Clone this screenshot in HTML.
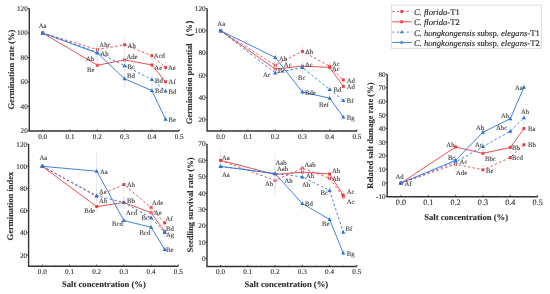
<!DOCTYPE html>
<html><head><meta charset="utf-8"><style>
html,body{margin:0;padding:0;background:#fff;width:550px;height:294px;overflow:hidden}
svg{display:block;will-change:transform}
.lab{stroke-width:0.08px;fill:#333;stroke:#333}
text{text-rendering:geometricPrecision;font-family:"Liberation Serif",serif;fill:#2e2e2e;stroke:#2e2e2e;stroke-width:0.12px}
</style></head><body>
<svg width="550" height="294" viewBox="0 0 550 294">
<rect width="550" height="294" fill="#fff"/>
<path d="M29.3 8.499999999999986V131H179.2" fill="none" stroke="#333" stroke-width="1.4"/>
<line x1="42.70" y1="131" x2="42.70" y2="129.4" stroke="#333" stroke-width="0.9"/>
<text x="42.70" y="138.60" text-anchor="middle" font-size="7.2">0.0</text>
<line x1="56.35" y1="131" x2="56.35" y2="130.1" stroke="#333" stroke-width="0.7"/>
<line x1="70.00" y1="131" x2="70.00" y2="129.4" stroke="#333" stroke-width="0.9"/>
<text x="70.00" y="138.60" text-anchor="middle" font-size="7.2">0.1</text>
<line x1="83.65" y1="131" x2="83.65" y2="130.1" stroke="#333" stroke-width="0.7"/>
<line x1="97.30" y1="131" x2="97.30" y2="129.4" stroke="#333" stroke-width="0.9"/>
<text x="97.30" y="138.60" text-anchor="middle" font-size="7.2">0.2</text>
<line x1="110.95" y1="131" x2="110.95" y2="130.1" stroke="#333" stroke-width="0.7"/>
<line x1="124.60" y1="131" x2="124.60" y2="129.4" stroke="#333" stroke-width="0.9"/>
<text x="124.60" y="138.60" text-anchor="middle" font-size="7.2">0.3</text>
<line x1="138.25" y1="131" x2="138.25" y2="130.1" stroke="#333" stroke-width="0.7"/>
<line x1="151.90" y1="131" x2="151.90" y2="129.4" stroke="#333" stroke-width="0.9"/>
<text x="151.90" y="138.60" text-anchor="middle" font-size="7.2">0.4</text>
<line x1="165.55" y1="131" x2="165.55" y2="130.1" stroke="#333" stroke-width="0.7"/>
<line x1="179.20" y1="131" x2="179.20" y2="129.4" stroke="#333" stroke-width="0.9"/>
<text x="179.20" y="138.60" text-anchor="middle" font-size="7.2">0.5</text>
<line x1="29.3" y1="131.00" x2="27.7" y2="131.00" stroke="#333" stroke-width="0.9"/>
<text x="27.80" y="133.40" text-anchor="end" font-size="7.2">20</text>
<line x1="29.3" y1="106.50" x2="27.7" y2="106.50" stroke="#333" stroke-width="0.9"/>
<text x="27.80" y="108.90" text-anchor="end" font-size="7.2">40</text>
<line x1="29.3" y1="82.00" x2="27.7" y2="82.00" stroke="#333" stroke-width="0.9"/>
<text x="27.80" y="84.40" text-anchor="end" font-size="7.2">60</text>
<line x1="29.3" y1="57.50" x2="27.7" y2="57.50" stroke="#333" stroke-width="0.9"/>
<text x="27.80" y="59.90" text-anchor="end" font-size="7.2">80</text>
<line x1="29.3" y1="33.00" x2="27.7" y2="33.00" stroke="#333" stroke-width="0.9"/>
<text x="27.80" y="35.40" text-anchor="end" font-size="7.2">100</text>
<line x1="29.3" y1="8.50" x2="27.7" y2="8.50" stroke="#333" stroke-width="0.9"/>
<text x="27.80" y="10.90" text-anchor="end" font-size="7.2">120</text>
<text transform="translate(13.9,69.6) rotate(-90)" text-anchor="middle" font-size="8.5" font-weight="bold" fill="#222">Germination rate (%)</text>
<line x1="97.30" y1="39.54" x2="97.30" y2="59.54" stroke="#efdcdd" stroke-width="0.7"/>
<line x1="124.60" y1="34.76" x2="124.60" y2="54.76" stroke="#efdcdd" stroke-width="0.7"/>
<line x1="151.90" y1="49.66" x2="151.90" y2="61.66" stroke="#efdcdd" stroke-width="0.7"/>
<line x1="165.55" y1="62.42" x2="165.55" y2="72.42" stroke="#efdcdd" stroke-width="0.7"/>
<path d="M42.70 33.00 L97.30 49.54 L124.60 44.76 L151.90 55.66 L165.55 67.42" fill="none" stroke="#e83c40" stroke-width="0.9" stroke-dasharray="2.4 2.3"/>
<rect x="41.25" y="31.55" width="2.9" height="2.9" fill="#e83c40"/>
<rect x="95.85" y="48.09" width="2.9" height="2.9" fill="#e83c40"/>
<rect x="123.15" y="43.31" width="2.9" height="2.9" fill="#e83c40"/>
<rect x="150.45" y="54.21" width="2.9" height="2.9" fill="#e83c40"/>
<rect x="164.10" y="65.97" width="2.9" height="2.9" fill="#e83c40"/>
<line x1="97.30" y1="59.22" x2="97.30" y2="71.22" stroke="#efdcdd" stroke-width="0.7"/>
<line x1="124.60" y1="53.95" x2="124.60" y2="65.95" stroke="#efdcdd" stroke-width="0.7"/>
<line x1="151.90" y1="58.97" x2="151.90" y2="70.97" stroke="#efdcdd" stroke-width="0.7"/>
<line x1="165.55" y1="76.75" x2="165.55" y2="86.75" stroke="#efdcdd" stroke-width="0.7"/>
<path d="M42.70 33.00 L97.30 65.22 L124.60 59.95 L151.90 64.97 L165.55 81.75" fill="none" stroke="#e83c40" stroke-width="0.9"/>
<rect x="41.25" y="31.55" width="2.9" height="2.9" fill="#e83c40"/>
<rect x="95.85" y="63.77" width="2.9" height="2.9" fill="#e83c40"/>
<rect x="123.15" y="58.50" width="2.9" height="2.9" fill="#e83c40"/>
<rect x="150.45" y="63.52" width="2.9" height="2.9" fill="#e83c40"/>
<rect x="164.10" y="80.30" width="2.9" height="2.9" fill="#e83c40"/>
<line x1="97.30" y1="46.23" x2="97.30" y2="58.23" stroke="#dce1ea" stroke-width="0.7"/>
<line x1="124.60" y1="59.71" x2="124.60" y2="71.71" stroke="#dce1ea" stroke-width="0.7"/>
<line x1="151.90" y1="73.55" x2="151.90" y2="85.55" stroke="#dce1ea" stroke-width="0.7"/>
<line x1="165.55" y1="84.94" x2="165.55" y2="96.94" stroke="#dce1ea" stroke-width="0.7"/>
<path d="M42.70 33.00 L97.30 52.23 L124.60 65.71 L151.90 79.55 L165.55 90.94" fill="none" stroke="#2e72d8" stroke-width="0.9" stroke-dasharray="2.4 2.3"/>
<path d="M42.70 30.80L44.80 34.50L40.60 34.50Z" fill="#2e72d8"/>
<path d="M97.30 50.03L99.40 53.73L95.20 53.73Z" fill="#2e72d8"/>
<path d="M124.60 63.51L126.70 67.21L122.50 67.21Z" fill="#2e72d8"/>
<path d="M151.90 77.35L154.00 81.05L149.80 81.05Z" fill="#2e72d8"/>
<path d="M165.55 88.74L167.65 92.44L163.45 92.44Z" fill="#2e72d8"/>
<line x1="97.30" y1="41.09" x2="97.30" y2="65.09" stroke="#dce1ea" stroke-width="0.7"/>
<line x1="124.60" y1="68.81" x2="124.60" y2="88.81" stroke="#dce1ea" stroke-width="0.7"/>
<line x1="151.90" y1="80.57" x2="151.90" y2="100.57" stroke="#dce1ea" stroke-width="0.7"/>
<line x1="165.55" y1="111.24" x2="165.55" y2="127.24" stroke="#dce1ea" stroke-width="0.7"/>
<path d="M42.70 33.00 L97.30 53.09 L124.60 78.81 L151.90 90.57 L165.55 119.24" fill="none" stroke="#2e72d8" stroke-width="0.9"/>
<path d="M42.70 30.80L44.80 34.50L40.60 34.50Z" fill="#2e72d8"/>
<path d="M97.30 50.89L99.40 54.59L95.20 54.59Z" fill="#2e72d8"/>
<path d="M124.60 76.61L126.70 80.31L122.50 80.31Z" fill="#2e72d8"/>
<path d="M151.90 88.37L154.00 92.07L149.80 92.07Z" fill="#2e72d8"/>
<path d="M165.55 117.04L167.65 120.74L163.45 120.74Z" fill="#2e72d8"/>
<text x="38.7" y="28.40" font-size="6.7" class="lab">Aa</text>
<text x="99.3" y="46.70" font-size="6.7" class="lab">Abc</text>
<text x="100.3" y="55.70" font-size="6.7" class="lab">Ab</text>
<text x="86" y="60.50" font-size="6.7" class="lab">Ab</text>
<text x="87" y="71.70" font-size="6.7" class="lab">Be</text>
<text x="127.6" y="47.90" font-size="6.7" class="lab">Ab</text>
<text x="126.4" y="59.40" font-size="6.7" class="lab">Ade</text>
<text x="127.6" y="68.90" font-size="6.7" class="lab">Bc</text>
<text x="127" y="77.90" font-size="6.7" class="lab">Bd</text>
<text x="153.8" y="58.40" font-size="6.7" class="lab">Acd</text>
<text x="154.3" y="70.10" font-size="6.7" class="lab">Ae</text>
<text x="155" y="82.70" font-size="6.7" class="lab">Bd</text>
<text x="155" y="92.90" font-size="6.7" class="lab">Bd</text>
<text x="168" y="70.10" font-size="6.7" class="lab">Ae</text>
<text x="168.6" y="84.40" font-size="6.7" class="lab">Af</text>
<text x="168.6" y="94.10" font-size="6.7" class="lab">Bd</text>
<text x="168.6" y="122.00" font-size="6.7" class="lab">Be</text><path d="M207.1 8.6V131H356.95" fill="none" stroke="#333" stroke-width="1.4"/>
<line x1="220.70" y1="131" x2="220.70" y2="129.4" stroke="#333" stroke-width="0.9"/>
<text x="220.70" y="138.60" text-anchor="middle" font-size="7.2">0.0</text>
<line x1="234.32" y1="131" x2="234.32" y2="130.1" stroke="#333" stroke-width="0.7"/>
<line x1="247.95" y1="131" x2="247.95" y2="129.4" stroke="#333" stroke-width="0.9"/>
<text x="247.95" y="138.60" text-anchor="middle" font-size="7.2">0.1</text>
<line x1="261.57" y1="131" x2="261.57" y2="130.1" stroke="#333" stroke-width="0.7"/>
<line x1="275.20" y1="131" x2="275.20" y2="129.4" stroke="#333" stroke-width="0.9"/>
<text x="275.20" y="138.60" text-anchor="middle" font-size="7.2">0.2</text>
<line x1="288.82" y1="131" x2="288.82" y2="130.1" stroke="#333" stroke-width="0.7"/>
<line x1="302.45" y1="131" x2="302.45" y2="129.4" stroke="#333" stroke-width="0.9"/>
<text x="302.45" y="138.60" text-anchor="middle" font-size="7.2">0.3</text>
<line x1="316.07" y1="131" x2="316.07" y2="130.1" stroke="#333" stroke-width="0.7"/>
<line x1="329.70" y1="131" x2="329.70" y2="129.4" stroke="#333" stroke-width="0.9"/>
<text x="329.70" y="138.60" text-anchor="middle" font-size="7.2">0.4</text>
<line x1="343.32" y1="131" x2="343.32" y2="130.1" stroke="#333" stroke-width="0.7"/>
<line x1="356.95" y1="131" x2="356.95" y2="129.4" stroke="#333" stroke-width="0.9"/>
<text x="356.95" y="138.60" text-anchor="middle" font-size="7.2">0.5</text>
<line x1="207.1" y1="119.80" x2="205.5" y2="119.80" stroke="#333" stroke-width="0.9"/>
<text x="205.60" y="122.20" text-anchor="end" font-size="7.2">20</text>
<line x1="207.1" y1="97.56" x2="205.5" y2="97.56" stroke="#333" stroke-width="0.9"/>
<text x="205.60" y="99.96" text-anchor="end" font-size="7.2">40</text>
<line x1="207.1" y1="75.32" x2="205.5" y2="75.32" stroke="#333" stroke-width="0.9"/>
<text x="205.60" y="77.72" text-anchor="end" font-size="7.2">60</text>
<line x1="207.1" y1="53.08" x2="205.5" y2="53.08" stroke="#333" stroke-width="0.9"/>
<text x="205.60" y="55.48" text-anchor="end" font-size="7.2">80</text>
<line x1="207.1" y1="30.84" x2="205.5" y2="30.84" stroke="#333" stroke-width="0.9"/>
<text x="205.60" y="33.24" text-anchor="end" font-size="7.2">100</text>
<line x1="207.1" y1="8.60" x2="205.5" y2="8.60" stroke="#333" stroke-width="0.9"/>
<text x="205.60" y="11.00" text-anchor="end" font-size="7.2">120</text>
<text transform="translate(191.6,70) rotate(-90)" text-anchor="middle" font-size="8.5" font-weight="bold" fill="#222">Germination potential （%）</text>
<line x1="275.20" y1="59.20" x2="275.20" y2="71.20" stroke="#efdcdd" stroke-width="0.7"/>
<line x1="302.45" y1="45.40" x2="302.45" y2="57.40" stroke="#efdcdd" stroke-width="0.7"/>
<line x1="329.70" y1="61.20" x2="329.70" y2="71.20" stroke="#efdcdd" stroke-width="0.7"/>
<line x1="343.32" y1="75.00" x2="343.32" y2="85.00" stroke="#efdcdd" stroke-width="0.7"/>
<path d="M220.70 30.84 L275.20 65.20 L302.45 51.40 L329.70 66.20 L343.32 80.00" fill="none" stroke="#e83c40" stroke-width="0.9" stroke-dasharray="2.4 2.3"/>
<rect x="219.25" y="29.39" width="2.9" height="2.9" fill="#e83c40"/>
<rect x="273.75" y="63.75" width="2.9" height="2.9" fill="#e83c40"/>
<rect x="301.00" y="49.95" width="2.9" height="2.9" fill="#e83c40"/>
<rect x="328.25" y="64.75" width="2.9" height="2.9" fill="#e83c40"/>
<rect x="341.88" y="78.55" width="2.9" height="2.9" fill="#e83c40"/>
<line x1="275.20" y1="64.00" x2="275.20" y2="74.00" stroke="#efdcdd" stroke-width="0.7"/>
<line x1="302.45" y1="61.10" x2="302.45" y2="71.10" stroke="#efdcdd" stroke-width="0.7"/>
<line x1="329.70" y1="62.40" x2="329.70" y2="72.40" stroke="#efdcdd" stroke-width="0.7"/>
<line x1="343.32" y1="81.40" x2="343.32" y2="91.40" stroke="#efdcdd" stroke-width="0.7"/>
<path d="M220.70 30.84 L275.20 69.00 L302.45 66.10 L329.70 67.40 L343.32 86.40" fill="none" stroke="#e83c40" stroke-width="0.9"/>
<rect x="219.25" y="29.39" width="2.9" height="2.9" fill="#e83c40"/>
<rect x="273.75" y="67.55" width="2.9" height="2.9" fill="#e83c40"/>
<rect x="301.00" y="64.65" width="2.9" height="2.9" fill="#e83c40"/>
<rect x="328.25" y="65.95" width="2.9" height="2.9" fill="#e83c40"/>
<rect x="341.88" y="84.95" width="2.9" height="2.9" fill="#e83c40"/>
<line x1="275.20" y1="66.90" x2="275.20" y2="78.90" stroke="#dce1ea" stroke-width="0.7"/>
<line x1="302.45" y1="61.60" x2="302.45" y2="73.60" stroke="#dce1ea" stroke-width="0.7"/>
<line x1="329.70" y1="84.50" x2="329.70" y2="94.50" stroke="#dce1ea" stroke-width="0.7"/>
<line x1="343.32" y1="96.60" x2="343.32" y2="104.60" stroke="#dce1ea" stroke-width="0.7"/>
<path d="M220.70 30.84 L275.20 72.90 L302.45 67.60 L329.70 89.50 L343.32 100.60" fill="none" stroke="#2e72d8" stroke-width="0.9" stroke-dasharray="2.4 2.3"/>
<path d="M220.70 28.64L222.80 32.34L218.60 32.34Z" fill="#2e72d8"/>
<path d="M275.20 70.70L277.30 74.40L273.10 74.40Z" fill="#2e72d8"/>
<path d="M302.45 65.40L304.55 69.10L300.35 69.10Z" fill="#2e72d8"/>
<path d="M329.70 87.30L331.80 91.00L327.60 91.00Z" fill="#2e72d8"/>
<path d="M343.32 98.40L345.43 102.10L341.22 102.10Z" fill="#2e72d8"/>
<line x1="275.20" y1="52.40" x2="275.20" y2="62.40" stroke="#dce1ea" stroke-width="0.7"/>
<line x1="302.45" y1="87.00" x2="302.45" y2="97.00" stroke="#dce1ea" stroke-width="0.7"/>
<line x1="329.70" y1="93.20" x2="329.70" y2="103.20" stroke="#dce1ea" stroke-width="0.7"/>
<line x1="343.32" y1="113.10" x2="343.32" y2="121.10" stroke="#dce1ea" stroke-width="0.7"/>
<path d="M220.70 30.84 L275.20 57.40 L302.45 92.00 L329.70 98.20 L343.32 117.10" fill="none" stroke="#2e72d8" stroke-width="0.9"/>
<path d="M220.70 28.64L222.80 32.34L218.60 32.34Z" fill="#2e72d8"/>
<path d="M275.20 55.20L277.30 58.90L273.10 58.90Z" fill="#2e72d8"/>
<path d="M302.45 89.80L304.55 93.50L300.35 93.50Z" fill="#2e72d8"/>
<path d="M329.70 96.00L331.80 99.70L327.60 99.70Z" fill="#2e72d8"/>
<path d="M343.32 114.90L345.43 118.60L341.22 118.60Z" fill="#2e72d8"/>
<text x="217.3" y="26.00" font-size="6.7" class="lab">Aa</text>
<text x="279" y="60.70" font-size="6.7" class="lab">Ab</text>
<text x="283.8" y="66.70" font-size="6.7" class="lab">Ac</text>
<text x="277.9" y="72.70" font-size="6.7" class="lab">Bc</text>
<text x="263" y="76.70" font-size="6.7" class="lab">Ac</text>
<text x="305" y="54.10" font-size="6.7" class="lab">Ab</text>
<text x="305" y="67.20" font-size="6.7" class="lab">Ac</text>
<text x="298" y="79.70" font-size="6.7" class="lab">Bc</text>
<text x="305" y="94.60" font-size="6.7" class="lab">Bde</text>
<text x="332" y="65.70" font-size="6.7" class="lab">Ac</text>
<text x="332" y="70.70" font-size="6.7" class="lab">Ac</text>
<text x="333.5" y="92.20" font-size="6.7" class="lab">Bd</text>
<text x="319" y="107.40" font-size="6.7" class="lab">Bef</text>
<text x="346.7" y="82.70" font-size="6.7" class="lab">Ad</text>
<text x="346.7" y="89.10" font-size="6.7" class="lab">Ad</text>
<text x="346.7" y="103.30" font-size="6.7" class="lab">Bf</text>
<text x="346.7" y="120.30" font-size="6.7" class="lab">Bg</text><path d="M28.6 144.1V266.2H178.3" fill="none" stroke="#333" stroke-width="1.4"/>
<line x1="42.30" y1="266.2" x2="42.30" y2="264.59999999999997" stroke="#333" stroke-width="0.9"/>
<text x="42.30" y="273.80" text-anchor="middle" font-size="7.2">0.0</text>
<line x1="55.90" y1="266.2" x2="55.90" y2="265.3" stroke="#333" stroke-width="0.7"/>
<line x1="69.50" y1="266.2" x2="69.50" y2="264.59999999999997" stroke="#333" stroke-width="0.9"/>
<text x="69.50" y="273.80" text-anchor="middle" font-size="7.2">0.1</text>
<line x1="83.10" y1="266.2" x2="83.10" y2="265.3" stroke="#333" stroke-width="0.7"/>
<line x1="96.70" y1="266.2" x2="96.70" y2="264.59999999999997" stroke="#333" stroke-width="0.9"/>
<text x="96.70" y="273.80" text-anchor="middle" font-size="7.2">0.2</text>
<line x1="110.30" y1="266.2" x2="110.30" y2="265.3" stroke="#333" stroke-width="0.7"/>
<line x1="123.90" y1="266.2" x2="123.90" y2="264.59999999999997" stroke="#333" stroke-width="0.9"/>
<text x="123.90" y="273.80" text-anchor="middle" font-size="7.2">0.3</text>
<line x1="137.50" y1="266.2" x2="137.50" y2="265.3" stroke="#333" stroke-width="0.7"/>
<line x1="151.10" y1="266.2" x2="151.10" y2="264.59999999999997" stroke="#333" stroke-width="0.9"/>
<text x="151.10" y="273.80" text-anchor="middle" font-size="7.2">0.4</text>
<line x1="164.70" y1="266.2" x2="164.70" y2="265.3" stroke="#333" stroke-width="0.7"/>
<line x1="178.30" y1="266.2" x2="178.30" y2="264.59999999999997" stroke="#333" stroke-width="0.9"/>
<text x="178.30" y="273.80" text-anchor="middle" font-size="7.2">0.5</text>
<line x1="28.6" y1="255.10" x2="27.0" y2="255.10" stroke="#333" stroke-width="0.9"/>
<text x="27.10" y="257.50" text-anchor="end" font-size="7.2">20</text>
<line x1="28.6" y1="232.90" x2="27.0" y2="232.90" stroke="#333" stroke-width="0.9"/>
<text x="27.10" y="235.30" text-anchor="end" font-size="7.2">40</text>
<line x1="28.6" y1="210.70" x2="27.0" y2="210.70" stroke="#333" stroke-width="0.9"/>
<text x="27.10" y="213.10" text-anchor="end" font-size="7.2">60</text>
<line x1="28.6" y1="188.50" x2="27.0" y2="188.50" stroke="#333" stroke-width="0.9"/>
<text x="27.10" y="190.90" text-anchor="end" font-size="7.2">80</text>
<line x1="28.6" y1="166.30" x2="27.0" y2="166.30" stroke="#333" stroke-width="0.9"/>
<text x="27.10" y="168.70" text-anchor="end" font-size="7.2">100</text>
<line x1="28.6" y1="144.10" x2="27.0" y2="144.10" stroke="#333" stroke-width="0.9"/>
<text x="27.10" y="146.50" text-anchor="end" font-size="7.2">120</text>
<text transform="translate(13.2,206.1) rotate(-90)" text-anchor="middle" font-size="8.5" font-weight="bold" fill="#222">Germination index</text>
<text x="62" y="286.5" font-size="8.65" font-weight="bold" fill="#222">Salt concentration (%)</text>
<line x1="96.70" y1="188.50" x2="96.70" y2="204.50" stroke="#efdcdd" stroke-width="0.7"/>
<line x1="123.90" y1="176.50" x2="123.90" y2="192.50" stroke="#efdcdd" stroke-width="0.7"/>
<line x1="151.10" y1="201.60" x2="151.10" y2="213.60" stroke="#efdcdd" stroke-width="0.7"/>
<line x1="164.70" y1="217.90" x2="164.70" y2="227.90" stroke="#efdcdd" stroke-width="0.7"/>
<path d="M42.30 166.30 L96.70 196.50 L123.90 184.50 L151.10 207.60 L164.70 222.90" fill="none" stroke="#e83c40" stroke-width="0.9" stroke-dasharray="2.4 2.3"/>
<rect x="40.85" y="164.85" width="2.9" height="2.9" fill="#e83c40"/>
<rect x="95.25" y="195.05" width="2.9" height="2.9" fill="#e83c40"/>
<rect x="122.45" y="183.05" width="2.9" height="2.9" fill="#e83c40"/>
<rect x="149.65" y="206.15" width="2.9" height="2.9" fill="#e83c40"/>
<rect x="163.25" y="221.45" width="2.9" height="2.9" fill="#e83c40"/>
<line x1="96.70" y1="199.60" x2="96.70" y2="213.60" stroke="#efdcdd" stroke-width="0.7"/>
<line x1="123.90" y1="196.50" x2="123.90" y2="208.50" stroke="#efdcdd" stroke-width="0.7"/>
<line x1="151.10" y1="207.70" x2="151.10" y2="217.70" stroke="#efdcdd" stroke-width="0.7"/>
<line x1="164.70" y1="226.40" x2="164.70" y2="236.40" stroke="#efdcdd" stroke-width="0.7"/>
<path d="M42.30 166.30 L96.70 206.60 L123.90 202.50 L151.10 212.70 L164.70 231.40" fill="none" stroke="#e83c40" stroke-width="0.9"/>
<rect x="40.85" y="164.85" width="2.9" height="2.9" fill="#e83c40"/>
<rect x="95.25" y="205.15" width="2.9" height="2.9" fill="#e83c40"/>
<rect x="122.45" y="201.05" width="2.9" height="2.9" fill="#e83c40"/>
<rect x="149.65" y="211.25" width="2.9" height="2.9" fill="#e83c40"/>
<rect x="163.25" y="229.95" width="2.9" height="2.9" fill="#e83c40"/>
<line x1="96.70" y1="189.70" x2="96.70" y2="201.70" stroke="#dce1ea" stroke-width="0.7"/>
<line x1="123.90" y1="196.50" x2="123.90" y2="208.50" stroke="#dce1ea" stroke-width="0.7"/>
<line x1="151.10" y1="211.80" x2="151.10" y2="223.80" stroke="#dce1ea" stroke-width="0.7"/>
<line x1="164.70" y1="227.40" x2="164.70" y2="237.40" stroke="#dce1ea" stroke-width="0.7"/>
<path d="M42.30 166.30 L96.70 195.70 L123.90 202.50 L151.10 217.80 L164.70 232.40" fill="none" stroke="#2e72d8" stroke-width="0.9" stroke-dasharray="2.4 2.3"/>
<path d="M42.30 164.10L44.40 167.80L40.20 167.80Z" fill="#2e72d8"/>
<path d="M96.70 193.50L98.80 197.20L94.60 197.20Z" fill="#2e72d8"/>
<path d="M123.90 200.30L126.00 204.00L121.80 204.00Z" fill="#2e72d8"/>
<path d="M151.10 215.60L153.20 219.30L149.00 219.30Z" fill="#2e72d8"/>
<path d="M164.70 230.20L166.80 233.90L162.60 233.90Z" fill="#2e72d8"/>
<line x1="96.70" y1="151.20" x2="96.70" y2="191.20" stroke="#dce1ea" stroke-width="0.7"/>
<line x1="123.90" y1="212.50" x2="123.90" y2="228.50" stroke="#dce1ea" stroke-width="0.7"/>
<line x1="151.10" y1="221.30" x2="151.10" y2="233.30" stroke="#dce1ea" stroke-width="0.7"/>
<line x1="164.70" y1="244.50" x2="164.70" y2="254.50" stroke="#dce1ea" stroke-width="0.7"/>
<path d="M42.30 166.30 L96.70 171.20 L123.90 220.50 L151.10 227.30 L164.70 249.50" fill="none" stroke="#2e72d8" stroke-width="0.9"/>
<path d="M42.30 164.10L44.40 167.80L40.20 167.80Z" fill="#2e72d8"/>
<path d="M96.70 169.00L98.80 172.70L94.60 172.70Z" fill="#2e72d8"/>
<path d="M123.90 218.30L126.00 222.00L121.80 222.00Z" fill="#2e72d8"/>
<path d="M151.10 225.10L153.20 228.80L149.00 228.80Z" fill="#2e72d8"/>
<path d="M164.70 247.30L166.80 251.00L162.60 251.00Z" fill="#2e72d8"/>
<text x="39.5" y="159.70" font-size="6.7" class="lab">Aa</text>
<text x="100" y="173.90" font-size="6.7" class="lab">Aa</text>
<text x="99" y="194.00" font-size="6.7" class="lab">Ac</text>
<text x="99" y="202.70" font-size="6.7" class="lab">Ab</text>
<text x="84.2" y="212.70" font-size="6.7" class="lab">Bde</text>
<text x="127" y="187.20" font-size="6.7" class="lab">Ab</text>
<text x="127" y="203.40" font-size="6.7" class="lab">Bb</text>
<text x="126" y="214.70" font-size="6.7" class="lab">Acd</text>
<text x="112" y="225.70" font-size="6.7" class="lab">Bcd</text>
<text x="152" y="204.70" font-size="6.7" class="lab">Ade</text>
<text x="154" y="215.40" font-size="6.7" class="lab">Ae</text>
<text x="141.5" y="220.00" font-size="6.7" class="lab">Bc</text>
<text x="139.5" y="235.10" font-size="6.7" class="lab">Bcd</text>
<text x="165.5" y="220.70" font-size="6.7" class="lab">Af</text>
<text x="166" y="231.20" font-size="6.7" class="lab">Bd</text>
<text x="166" y="236.70" font-size="6.7" class="lab">Ag</text>
<text x="166" y="252.20" font-size="6.7" class="lab">Be</text><path d="M207 144.08000000000004V266.5H356.85" fill="none" stroke="#333" stroke-width="1.4"/>
<line x1="220.60" y1="266.5" x2="220.60" y2="264.9" stroke="#333" stroke-width="0.9"/>
<text x="220.60" y="274.10" text-anchor="middle" font-size="7.2">0.0</text>
<line x1="234.22" y1="266.5" x2="234.22" y2="265.6" stroke="#333" stroke-width="0.7"/>
<line x1="247.85" y1="266.5" x2="247.85" y2="264.9" stroke="#333" stroke-width="0.9"/>
<text x="247.85" y="274.10" text-anchor="middle" font-size="7.2">0.1</text>
<line x1="261.48" y1="266.5" x2="261.48" y2="265.6" stroke="#333" stroke-width="0.7"/>
<line x1="275.10" y1="266.5" x2="275.10" y2="264.9" stroke="#333" stroke-width="0.9"/>
<text x="275.10" y="274.10" text-anchor="middle" font-size="7.2">0.2</text>
<line x1="288.73" y1="266.5" x2="288.73" y2="265.6" stroke="#333" stroke-width="0.7"/>
<line x1="302.35" y1="266.5" x2="302.35" y2="264.9" stroke="#333" stroke-width="0.9"/>
<text x="302.35" y="274.10" text-anchor="middle" font-size="7.2">0.3</text>
<line x1="315.98" y1="266.5" x2="315.98" y2="265.6" stroke="#333" stroke-width="0.7"/>
<line x1="329.60" y1="266.5" x2="329.60" y2="264.9" stroke="#333" stroke-width="0.9"/>
<text x="329.60" y="274.10" text-anchor="middle" font-size="7.2">0.4</text>
<line x1="343.23" y1="266.5" x2="343.23" y2="265.6" stroke="#333" stroke-width="0.7"/>
<line x1="356.85" y1="266.5" x2="356.85" y2="264.9" stroke="#333" stroke-width="0.9"/>
<text x="356.85" y="274.10" text-anchor="middle" font-size="7.2">0.5</text>
<line x1="207" y1="258.60" x2="205.4" y2="258.60" stroke="#333" stroke-width="0.9"/>
<text x="205.50" y="261.00" text-anchor="end" font-size="7.2">0</text>
<line x1="207" y1="242.24" x2="205.4" y2="242.24" stroke="#333" stroke-width="0.9"/>
<text x="205.50" y="244.64" text-anchor="end" font-size="7.2">10</text>
<line x1="207" y1="225.88" x2="205.4" y2="225.88" stroke="#333" stroke-width="0.9"/>
<text x="205.50" y="228.28" text-anchor="end" font-size="7.2">20</text>
<line x1="207" y1="209.52" x2="205.4" y2="209.52" stroke="#333" stroke-width="0.9"/>
<text x="205.50" y="211.92" text-anchor="end" font-size="7.2">30</text>
<line x1="207" y1="193.16" x2="205.4" y2="193.16" stroke="#333" stroke-width="0.9"/>
<text x="205.50" y="195.56" text-anchor="end" font-size="7.2">40</text>
<line x1="207" y1="176.80" x2="205.4" y2="176.80" stroke="#333" stroke-width="0.9"/>
<text x="205.50" y="179.20" text-anchor="end" font-size="7.2">50</text>
<line x1="207" y1="160.44" x2="205.4" y2="160.44" stroke="#333" stroke-width="0.9"/>
<text x="205.50" y="162.84" text-anchor="end" font-size="7.2">60</text>
<line x1="207" y1="144.08" x2="205.4" y2="144.08" stroke="#333" stroke-width="0.9"/>
<text x="205.50" y="146.48" text-anchor="end" font-size="7.2">70</text>
<text transform="translate(192.5,205) rotate(-90)" text-anchor="middle" font-size="8.5" font-weight="bold" fill="#222">Seedling survival rate (%)</text>
<text x="244.4" y="286.5" font-size="8.65" font-weight="bold" fill="#222">Salt concentration (%)</text>
<line x1="275.10" y1="165.50" x2="275.10" y2="195.50" stroke="#efdcdd" stroke-width="0.7"/>
<line x1="302.35" y1="162.20" x2="302.35" y2="174.20" stroke="#efdcdd" stroke-width="0.7"/>
<line x1="329.60" y1="173.20" x2="329.60" y2="183.20" stroke="#efdcdd" stroke-width="0.7"/>
<line x1="343.23" y1="193.00" x2="343.23" y2="201.00" stroke="#efdcdd" stroke-width="0.7"/>
<path d="M220.60 160.40 L275.10 180.50 L302.35 168.20 L329.60 178.20 L343.23 197.00" fill="none" stroke="#e83c40" stroke-width="0.9" stroke-dasharray="2.4 2.3"/>
<rect x="219.15" y="158.95" width="2.9" height="2.9" fill="#e83c40"/>
<rect x="273.65" y="179.05" width="2.9" height="2.9" fill="#e83c40"/>
<rect x="300.90" y="166.75" width="2.9" height="2.9" fill="#e83c40"/>
<rect x="328.15" y="176.75" width="2.9" height="2.9" fill="#e83c40"/>
<rect x="341.78" y="195.55" width="2.9" height="2.9" fill="#e83c40"/>
<line x1="220.60" y1="148.40" x2="220.60" y2="172.40" stroke="#efdcdd" stroke-width="0.7"/>
<line x1="275.10" y1="168.50" x2="275.10" y2="180.50" stroke="#efdcdd" stroke-width="0.7"/>
<line x1="302.35" y1="166.20" x2="302.35" y2="178.20" stroke="#efdcdd" stroke-width="0.7"/>
<line x1="329.60" y1="169.00" x2="329.60" y2="179.00" stroke="#efdcdd" stroke-width="0.7"/>
<line x1="343.23" y1="191.10" x2="343.23" y2="199.10" stroke="#efdcdd" stroke-width="0.7"/>
<path d="M220.60 160.40 L275.10 174.50 L302.35 172.20 L329.60 174.00 L343.23 195.10" fill="none" stroke="#e83c40" stroke-width="0.9"/>
<rect x="219.15" y="158.95" width="2.9" height="2.9" fill="#e83c40"/>
<rect x="273.65" y="173.05" width="2.9" height="2.9" fill="#e83c40"/>
<rect x="300.90" y="170.75" width="2.9" height="2.9" fill="#e83c40"/>
<rect x="328.15" y="172.55" width="2.9" height="2.9" fill="#e83c40"/>
<rect x="341.78" y="193.65" width="2.9" height="2.9" fill="#e83c40"/>
<line x1="220.60" y1="162.40" x2="220.60" y2="170.40" stroke="#dce1ea" stroke-width="0.7"/>
<line x1="275.10" y1="167.60" x2="275.10" y2="179.60" stroke="#dce1ea" stroke-width="0.7"/>
<line x1="302.35" y1="170.90" x2="302.35" y2="182.90" stroke="#dce1ea" stroke-width="0.7"/>
<line x1="329.60" y1="184.40" x2="329.60" y2="196.40" stroke="#dce1ea" stroke-width="0.7"/>
<line x1="343.23" y1="227.20" x2="343.23" y2="237.20" stroke="#dce1ea" stroke-width="0.7"/>
<path d="M220.60 166.40 L275.10 173.60 L302.35 176.90 L329.60 190.40 L343.23 232.20" fill="none" stroke="#2e72d8" stroke-width="0.9" stroke-dasharray="2.4 2.3"/>
<path d="M220.60 164.20L222.70 167.90L218.50 167.90Z" fill="#2e72d8"/>
<path d="M275.10 171.40L277.20 175.10L273.00 175.10Z" fill="#2e72d8"/>
<path d="M302.35 174.70L304.45 178.40L300.25 178.40Z" fill="#2e72d8"/>
<path d="M329.60 188.20L331.70 191.90L327.50 191.90Z" fill="#2e72d8"/>
<path d="M343.23 230.00L345.33 233.70L341.12 233.70Z" fill="#2e72d8"/>
<line x1="220.60" y1="162.40" x2="220.60" y2="170.40" stroke="#dce1ea" stroke-width="0.7"/>
<line x1="275.10" y1="153.60" x2="275.10" y2="193.60" stroke="#dce1ea" stroke-width="0.7"/>
<line x1="302.35" y1="197.60" x2="302.35" y2="209.60" stroke="#dce1ea" stroke-width="0.7"/>
<line x1="329.60" y1="213.40" x2="329.60" y2="225.40" stroke="#dce1ea" stroke-width="0.7"/>
<line x1="343.23" y1="249.10" x2="343.23" y2="257.10" stroke="#dce1ea" stroke-width="0.7"/>
<path d="M220.60 166.40 L275.10 173.60 L302.35 203.60 L329.60 219.40 L343.23 253.10" fill="none" stroke="#2e72d8" stroke-width="0.9"/>
<path d="M220.60 164.20L222.70 167.90L218.50 167.90Z" fill="#2e72d8"/>
<path d="M275.10 171.40L277.20 175.10L273.00 175.10Z" fill="#2e72d8"/>
<path d="M302.35 201.40L304.45 205.10L300.25 205.10Z" fill="#2e72d8"/>
<path d="M329.60 217.20L331.70 220.90L327.50 220.90Z" fill="#2e72d8"/>
<path d="M343.23 250.90L345.33 254.60L341.12 254.60Z" fill="#2e72d8"/>
<text x="222" y="160.10" font-size="6.7" class="lab">Aa</text>
<text x="222" y="176.70" font-size="6.7" class="lab">Aa</text>
<text x="275.5" y="165.40" font-size="6.7" class="lab">Aab</text>
<text x="277" y="170.90" font-size="6.7" class="lab">Aab</text>
<text x="265" y="185.70" font-size="6.7" class="lab">Ab</text>
<text x="284.5" y="183.40" font-size="6.7" class="lab">Ab</text>
<text x="304.5" y="166.50" font-size="6.7" class="lab">Aab</text>
<text x="306" y="178.20" font-size="6.7" class="lab">Ab</text>
<text x="302" y="186.70" font-size="6.7" class="lab">Ab</text>
<text x="305" y="206.30" font-size="6.7" class="lab">Bd</text>
<text x="332" y="173.20" font-size="6.7" class="lab">Ab</text>
<text x="332" y="180.50" font-size="6.7" class="lab">Ab</text>
<text x="320.5" y="195.40" font-size="6.7" class="lab">Bc</text>
<text x="322" y="226.20" font-size="6.7" class="lab">Be</text>
<text x="346.7" y="194.10" font-size="6.7" class="lab">Ac</text>
<text x="346.7" y="203.90" font-size="6.7" class="lab">Ac</text>
<text x="345.5" y="231.10" font-size="6.7" class="lab">Bf</text>
<text x="346.7" y="255.80" font-size="6.7" class="lab">Bg</text><path d="M387.2 74.29999999999998V196.7H537.65" fill="none" stroke="#333" stroke-width="1.4"/>
<line x1="400.90" y1="196.7" x2="400.90" y2="195.1" stroke="#333" stroke-width="0.9"/>
<text x="400.90" y="204.75" text-anchor="middle" font-size="8.2">0.0</text>
<line x1="414.57" y1="196.7" x2="414.57" y2="195.79999999999998" stroke="#333" stroke-width="0.7"/>
<line x1="428.25" y1="196.7" x2="428.25" y2="195.1" stroke="#333" stroke-width="0.9"/>
<text x="428.25" y="204.75" text-anchor="middle" font-size="8.2">0.1</text>
<line x1="441.93" y1="196.7" x2="441.93" y2="195.79999999999998" stroke="#333" stroke-width="0.7"/>
<line x1="455.60" y1="196.7" x2="455.60" y2="195.1" stroke="#333" stroke-width="0.9"/>
<text x="455.60" y="204.75" text-anchor="middle" font-size="8.2">0.2</text>
<line x1="469.27" y1="196.7" x2="469.27" y2="195.79999999999998" stroke="#333" stroke-width="0.7"/>
<line x1="482.95" y1="196.7" x2="482.95" y2="195.1" stroke="#333" stroke-width="0.9"/>
<text x="482.95" y="204.75" text-anchor="middle" font-size="8.2">0.3</text>
<line x1="496.62" y1="196.7" x2="496.62" y2="195.79999999999998" stroke="#333" stroke-width="0.7"/>
<line x1="510.30" y1="196.7" x2="510.30" y2="195.1" stroke="#333" stroke-width="0.9"/>
<text x="510.30" y="204.75" text-anchor="middle" font-size="8.2">0.4</text>
<line x1="523.97" y1="196.7" x2="523.97" y2="195.79999999999998" stroke="#333" stroke-width="0.7"/>
<line x1="537.65" y1="196.7" x2="537.65" y2="195.1" stroke="#333" stroke-width="0.9"/>
<text x="537.65" y="204.75" text-anchor="middle" font-size="8.2">0.5</text>
<line x1="387.2" y1="196.70" x2="385.59999999999997" y2="196.70" stroke="#333" stroke-width="0.9"/>
<text x="385.70" y="199.10" text-anchor="end" font-size="7.2">-10</text>
<line x1="387.2" y1="183.10" x2="385.59999999999997" y2="183.10" stroke="#333" stroke-width="0.9"/>
<text x="385.70" y="185.50" text-anchor="end" font-size="7.2">0</text>
<line x1="387.2" y1="169.50" x2="385.59999999999997" y2="169.50" stroke="#333" stroke-width="0.9"/>
<text x="385.70" y="171.90" text-anchor="end" font-size="7.2">10</text>
<line x1="387.2" y1="155.90" x2="385.59999999999997" y2="155.90" stroke="#333" stroke-width="0.9"/>
<text x="385.70" y="158.30" text-anchor="end" font-size="7.2">20</text>
<line x1="387.2" y1="142.30" x2="385.59999999999997" y2="142.30" stroke="#333" stroke-width="0.9"/>
<text x="385.70" y="144.70" text-anchor="end" font-size="7.2">30</text>
<line x1="387.2" y1="128.70" x2="385.59999999999997" y2="128.70" stroke="#333" stroke-width="0.9"/>
<text x="385.70" y="131.10" text-anchor="end" font-size="7.2">40</text>
<line x1="387.2" y1="115.10" x2="385.59999999999997" y2="115.10" stroke="#333" stroke-width="0.9"/>
<text x="385.70" y="117.50" text-anchor="end" font-size="7.2">50</text>
<line x1="387.2" y1="101.50" x2="385.59999999999997" y2="101.50" stroke="#333" stroke-width="0.9"/>
<text x="385.70" y="103.90" text-anchor="end" font-size="7.2">60</text>
<line x1="387.2" y1="87.90" x2="385.59999999999997" y2="87.90" stroke="#333" stroke-width="0.9"/>
<text x="385.70" y="90.30" text-anchor="end" font-size="7.2">70</text>
<line x1="387.2" y1="74.30" x2="385.59999999999997" y2="74.30" stroke="#333" stroke-width="0.9"/>
<text x="385.70" y="76.70" text-anchor="end" font-size="7.2">80</text>
<text transform="translate(373.1,135.6) rotate(-90)" text-anchor="middle" font-size="8.5" font-weight="bold" fill="#222">Related salt damage rate (%)</text>
<text x="424.2" y="220.1" font-size="8.65" font-weight="bold" fill="#222">Salt concentration (%)</text>
<line x1="455.60" y1="158.20" x2="455.60" y2="170.20" stroke="#efdcdd" stroke-width="0.7"/>
<line x1="482.95" y1="163.80" x2="482.95" y2="175.80" stroke="#efdcdd" stroke-width="0.7"/>
<line x1="510.30" y1="152.60" x2="510.30" y2="162.60" stroke="#efdcdd" stroke-width="0.7"/>
<line x1="523.98" y1="139.70" x2="523.98" y2="149.70" stroke="#efdcdd" stroke-width="0.7"/>
<path d="M400.90 183.10 L455.60 164.20 L482.95 169.80 L510.30 157.60 L523.98 144.70" fill="none" stroke="#e83c40" stroke-width="0.9" stroke-dasharray="2.4 2.3"/>
<rect x="399.45" y="181.65" width="2.9" height="2.9" fill="#e83c40"/>
<rect x="454.15" y="162.75" width="2.9" height="2.9" fill="#e83c40"/>
<rect x="481.50" y="168.35" width="2.9" height="2.9" fill="#e83c40"/>
<rect x="508.85" y="156.15" width="2.9" height="2.9" fill="#e83c40"/>
<rect x="522.52" y="143.25" width="2.9" height="2.9" fill="#e83c40"/>
<line x1="455.60" y1="141.00" x2="455.60" y2="153.00" stroke="#efdcdd" stroke-width="0.7"/>
<line x1="482.95" y1="147.30" x2="482.95" y2="159.30" stroke="#efdcdd" stroke-width="0.7"/>
<line x1="510.30" y1="141.50" x2="510.30" y2="153.50" stroke="#efdcdd" stroke-width="0.7"/>
<line x1="523.98" y1="123.50" x2="523.98" y2="133.50" stroke="#efdcdd" stroke-width="0.7"/>
<path d="M400.90 183.10 L455.60 147.00 L482.95 153.30 L510.30 147.50 L523.98 128.50" fill="none" stroke="#e83c40" stroke-width="0.9"/>
<rect x="399.45" y="181.65" width="2.9" height="2.9" fill="#e83c40"/>
<rect x="454.15" y="145.55" width="2.9" height="2.9" fill="#e83c40"/>
<rect x="481.50" y="151.85" width="2.9" height="2.9" fill="#e83c40"/>
<rect x="508.85" y="146.05" width="2.9" height="2.9" fill="#e83c40"/>
<rect x="522.52" y="127.05" width="2.9" height="2.9" fill="#e83c40"/>
<line x1="455.60" y1="156.00" x2="455.60" y2="168.00" stroke="#dce1ea" stroke-width="0.7"/>
<line x1="482.95" y1="140.60" x2="482.95" y2="152.60" stroke="#dce1ea" stroke-width="0.7"/>
<line x1="510.30" y1="125.30" x2="510.30" y2="137.30" stroke="#dce1ea" stroke-width="0.7"/>
<line x1="523.98" y1="111.80" x2="523.98" y2="123.80" stroke="#dce1ea" stroke-width="0.7"/>
<path d="M400.90 183.10 L455.60 162.00 L482.95 146.60 L510.30 131.30 L523.98 117.80" fill="none" stroke="#2e72d8" stroke-width="0.9" stroke-dasharray="2.4 2.3"/>
<path d="M400.90 180.90L403.00 184.60L398.80 184.60Z" fill="#2e72d8"/>
<path d="M455.60 159.80L457.70 163.50L453.50 163.50Z" fill="#2e72d8"/>
<path d="M482.95 144.40L485.05 148.10L480.85 148.10Z" fill="#2e72d8"/>
<path d="M510.30 129.10L512.40 132.80L508.20 132.80Z" fill="#2e72d8"/>
<path d="M523.98 115.60L526.08 119.30L521.88 119.30Z" fill="#2e72d8"/>
<line x1="455.60" y1="154.30" x2="455.60" y2="166.30" stroke="#dce1ea" stroke-width="0.7"/>
<line x1="482.95" y1="126.20" x2="482.95" y2="138.20" stroke="#dce1ea" stroke-width="0.7"/>
<line x1="510.30" y1="112.70" x2="510.30" y2="124.70" stroke="#dce1ea" stroke-width="0.7"/>
<line x1="523.98" y1="81.20" x2="523.98" y2="93.20" stroke="#dce1ea" stroke-width="0.7"/>
<path d="M400.90 183.10 L455.60 160.30 L482.95 132.20 L510.30 118.70 L523.98 87.20" fill="none" stroke="#2e72d8" stroke-width="0.9"/>
<path d="M400.90 180.90L403.00 184.60L398.80 184.60Z" fill="#2e72d8"/>
<path d="M455.60 158.10L457.70 161.80L453.50 161.80Z" fill="#2e72d8"/>
<path d="M482.95 130.00L485.05 133.70L480.85 133.70Z" fill="#2e72d8"/>
<path d="M510.30 116.50L512.40 120.20L508.20 120.20Z" fill="#2e72d8"/>
<path d="M523.98 85.00L526.08 88.70L521.88 88.70Z" fill="#2e72d8"/>
<text x="395.5" y="178.70" font-size="6.7" class="lab">Ad</text>
<text x="404.4" y="186.40" font-size="6.7" class="lab">Af</text>
<text x="446.3" y="146.70" font-size="6.7" class="lab">Ab</text>
<text x="447.9" y="160.30" font-size="6.7" class="lab">Bc</text>
<text x="459.6" y="163.70" font-size="6.7" class="lab">Ac</text>
<text x="456" y="174.70" font-size="6.7" class="lab">Ade</text>
<text x="476" y="130.30" font-size="6.7" class="lab">Ab</text>
<text x="475" y="147.10" font-size="6.7" class="lab">Ac</text>
<text x="485" y="161.40" font-size="6.7" class="lab">Bbc</text>
<text x="486" y="173.10" font-size="6.7" class="lab">Be</text>
<text x="501" y="117.50" font-size="6.7" class="lab">Ab</text>
<text x="496" y="130.40" font-size="6.7" class="lab">Abc</text>
<text x="512" y="150.20" font-size="6.7" class="lab">Bb</text>
<text x="512" y="160.30" font-size="6.7" class="lab">Bcd</text>
<text x="515" y="89.90" font-size="6.7" class="lab">Aa</text>
<text x="521" y="113.70" font-size="6.7" class="lab">Ab</text>
<text x="528" y="131.20" font-size="6.7" class="lab">Ba</text>
<text x="528" y="147.40" font-size="6.7" class="lab">Bb</text>

<rect x="391.5" y="5.1" width="149.8" height="43.4" fill="#fff" stroke="#d0d0d0" stroke-width="0.7"/>
<line x1="392.3" y1="11.50" x2="411.9" y2="11.50" stroke="#e83c40" stroke-width="0.9" stroke-dasharray="2 2.8"/><rect x="400.30" y="10.10" width="2.8" height="2.8" fill="#e83c40"/><text x="413.9" y="14.90" font-size="8.6" fill="#1a1a1a" style="stroke:#1a1a1a;stroke-width:0.15px"><tspan font-style="italic">C. florida</tspan><tspan font-style="normal">-T1</tspan></text><line x1="392.3" y1="21.80" x2="411.9" y2="21.80" stroke="#e83c40" stroke-width="0.9"/><rect x="400.30" y="20.40" width="2.8" height="2.8" fill="#e83c40"/><text x="413.9" y="25.20" font-size="8.6" fill="#1a1a1a" style="stroke:#1a1a1a;stroke-width:0.15px"><tspan font-style="italic">C. florida</tspan><tspan font-style="normal">-T2</tspan></text><line x1="392.3" y1="32.10" x2="411.9" y2="32.10" stroke="#2e72d8" stroke-width="0.9" stroke-dasharray="2 2.8"/><path d="M401.70 30.20L403.50 33.20L399.90 33.20Z" fill="#2e72d8"/><text x="413.9" y="35.50" font-size="8.6" fill="#1a1a1a" style="stroke:#1a1a1a;stroke-width:0.15px"><tspan font-style="italic">C. hongkongensis</tspan><tspan font-style="normal"> subsp. </tspan><tspan font-style="italic">elegans</tspan><tspan font-style="normal">-T1</tspan></text><line x1="392.3" y1="42.40" x2="411.9" y2="42.40" stroke="#2e72d8" stroke-width="0.9"/><path d="M401.70 40.50L403.50 43.50L399.90 43.50Z" fill="#2e72d8"/><text x="413.9" y="45.80" font-size="8.6" fill="#1a1a1a" style="stroke:#1a1a1a;stroke-width:0.15px"><tspan font-style="italic">C. hongkongensis</tspan><tspan font-style="normal"> subsp. </tspan><tspan font-style="italic">elegans</tspan><tspan font-style="normal">-T2</tspan></text>
</svg>
</body></html>
